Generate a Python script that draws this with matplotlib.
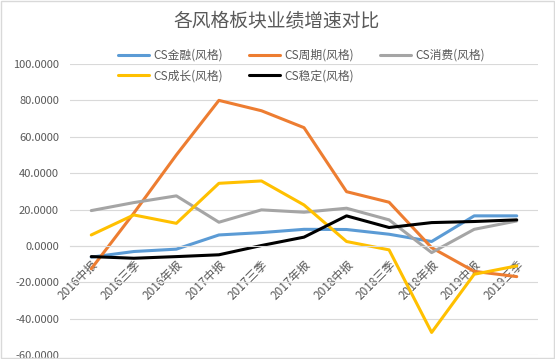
import matplotlib
matplotlib.use("Agg")
import matplotlib.pyplot as plt
from matplotlib.ticker import FuncFormatter

plt.rcParams['font.family'] = ['Noto Sans CJK SC', 'DejaVu Sans']

periods = ['2016中报', '2016三季', '2016年报', '2017中报', '2017三季', '2017年报',
           '2018中报', '2018三季', '2018年报', '2019中报', '2019三季']
jinrong = [-6.2, -3.1, -1.8, 6.0, 7.3, 9.1, 9.0, 6.4, 2.4, 16.5, 16.5]
zhouqi = [-12.6, 18.0, 50.0, 80.0, 74.3, 65.0, 29.8, 24.0, -1.0, -14.0, -16.9]
xiaofei = [19.4, 23.8, 27.5, 13.0, 19.8, 18.5, 20.7, 14.3, -3.7, 9.1, 13.7]
chengzhang = [6.0, 17.0, 12.4, 34.4, 35.7, 22.5, 2.4, -2.2, -47.6, -15.6, -11.0]
wending = [-5.9, -6.8, -5.9, -4.9, 0.2, 4.8, 16.5, 10.1, 12.8, 13.4, 14.3]

series = [
    ('CS金融(风格)', jinrong, '#5B9BD5'),
    ('CS周期(风格)', zhouqi, '#ED7D31'),
    ('CS消费(风格)', xiaofei, '#A5A5A5'),
    ('CS成长(风格)', chengzhang, '#FFC000'),
    ('CS稳定(风格)', wending, '#000000'),
]

fig = plt.figure(figsize=(5.55, 3.59), dpi=100)
ax = fig.add_axes([70 / 555, 1 - 355 / 359, 468 / 555, 291 / 359])

x = list(range(len(periods)))
lines = []
for name, vals, col in series:
    ln, = ax.plot(x, vals, color=col, lw=2.2, label=name, solid_capstyle='round')
    lines.append(ln)

ax.set_xlim(-0.5, len(periods) - 0.5)
ax.set_ylim(-60, 100)
ax.set_yticks(range(-60, 101, 20))
ax.yaxis.set_major_formatter(FuncFormatter(lambda v, p: '%.4f' % v))
ax.grid(axis='y', color='#d9d9d9', lw=0.8)
ax.set_axisbelow(True)
for s in ['top', 'right', 'left']:
    ax.spines[s].set_visible(False)
ax.spines['bottom'].set_position(('data', 0))
ax.spines['bottom'].set_color('#d9d9d9')
ax.set_xticks(x)
ax.set_xticklabels(periods, rotation=45, ha='right', va='top', rotation_mode='anchor')
ax.tick_params(axis='x', length=0, labelsize=8.5, labelcolor='#595959', pad=9)
ax.tick_params(axis='y', length=0, labelsize=8, labelcolor='#595959', pad=8)

fig.text(277 / 555, 1 - 22 / 359, '各风格板块业绩增速对比', ha='center', va='center',
         fontsize=13.5, color='#595959')

# legend fills by column, so reorder to get rows like the original
order = [0, 3, 1, 4, 2]
leg = fig.legend([lines[i] for i in order], [series[i][0] for i in order],
                 loc='upper left', bbox_to_anchor=(112 / 555, 1 - 43 / 359), ncol=3,
                 frameon=False, fontsize=8.5, handlelength=2.6, columnspacing=2.2,
                 handletextpad=0.4, labelspacing=0.65, borderpad=0)
for t in leg.get_texts():
    t.set_color('#595959')

fig.patches.append(plt.Rectangle((0.002, 0.003), 0.996, 0.994, transform=fig.transFigure,
                                 fill=False, edgecolor='#d9d9d9', lw=1))

fig.savefig('out.png', dpi=100)
